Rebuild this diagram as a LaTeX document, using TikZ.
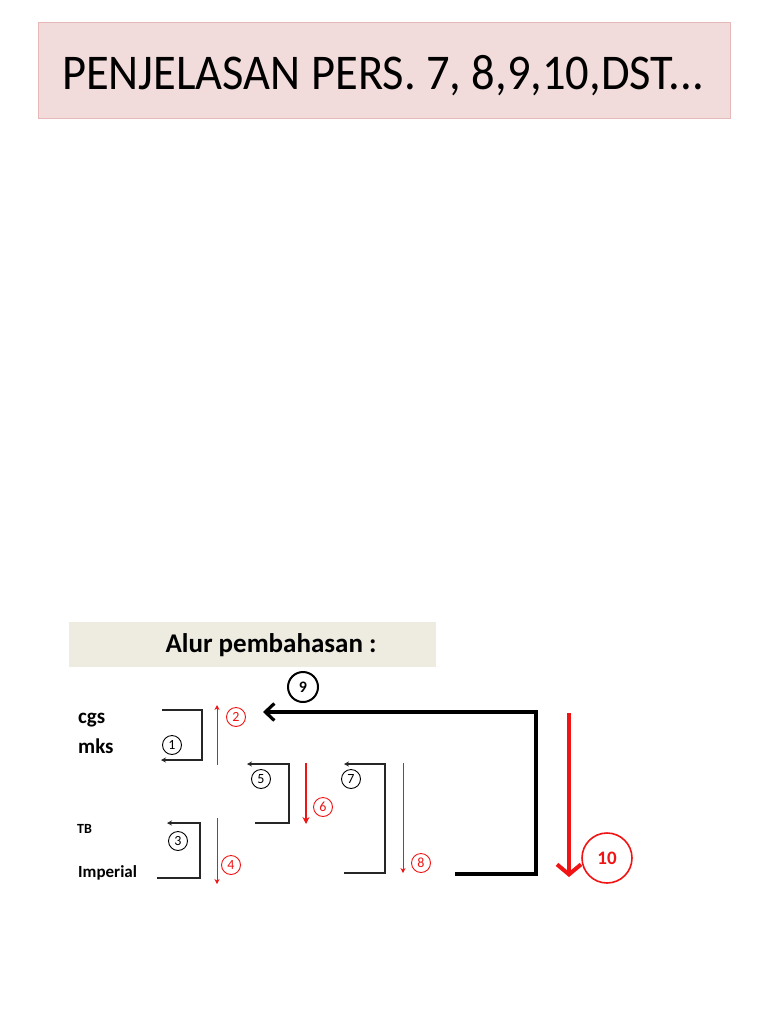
\documentclass[tikz,border=0pt]{standalone}
\usepackage{fontspec}
\setmainfont{Carlito}
\usetikzlibrary{arrows.meta}
\definecolor{titlefill}{RGB}{242,220,219}
\definecolor{titledraw}{RGB}{230,185,184}
\definecolor{alurfill}{RGB}{238,236,225}
\definecolor{myred}{RGB}{240,20,20}
\tikzset{
  bracketline/.style={draw=black!85, line width=1.1pt},
  redthin/.style={draw=myred, line width=1pt},
  numcirc/.style={circle, draw=black, line width=0.9pt, minimum size=19pt, inner sep=0pt, font=\fontsize{14}{14}\selectfont},
  rednumcirc/.style={numcirc, draw=myred, text=myred},
  unitlabel/.style={anchor=base west, font=\bfseries\fontsize{21}{21}\selectfont, inner sep=0pt},
  smallhead/.style={-{Stealth[length=5pt,width=5pt]}},
}
\begin{document}
\begin{tikzpicture}[x=1pt,y=-1pt]
\useasboundingbox (0,0) rectangle (768,1024);
\fill[white] (0,0) rectangle (768,1024);
% title
\draw[fill=titlefill, draw=titledraw, line width=0.8pt] (38,22) rectangle (730,118);
\node[anchor=base, inner sep=0pt, font=\fontsize{50}{50}\selectfont] (title) at (383,90) {\scalebox{0.93}[1]{PENJELASAN PERS. 7, 8,9,10,DST...}};
% alur box
\fill[alurfill] (69,622) rectangle (436,667);
\node[anchor=base, inner sep=0pt, font=\bfseries\fontsize{27}{27}\selectfont] (alur) at (271,652) {Alur pembahasan :};
% unit labels
\node[unitlabel] (cgs) at (78,723) {cgs};
\node[unitlabel] (mks) at (78,753) {mks};
\node[unitlabel, font=\bfseries\fontsize{14}{14}\selectfont] (tb) at (77,833) {TB};
\node[unitlabel, font=\bfseries\fontsize{17}{17}\selectfont] (imp) at (78,877) {Imperial};
% coordinates
\coordinate (b1a) at (162,710); \coordinate (b1b) at (202,710);
\coordinate (b1c) at (202,760); \coordinate (b1d) at (161,760);
\coordinate (b3a) at (157,878); \coordinate (b3b) at (200,878);
\coordinate (b3c) at (200,823); \coordinate (b3d) at (167,823);
\coordinate (b5a) at (255,823); \coordinate (b5b) at (289,823);
\coordinate (b5c) at (289,764); \coordinate (b5d) at (247,764);
\coordinate (b7a) at (344,873); \coordinate (b7b) at (385,873);
\coordinate (b7c) at (385,764); \coordinate (b7d) at (344,764);
\coordinate (r2a) at (217,765); \coordinate (r2b) at (217,705);
\coordinate (r4a) at (217,818); \coordinate (r4b) at (217,884);
\coordinate (r6a) at (306,763); \coordinate (r6b) at (306,824);
\coordinate (r8a) at (403,763); \coordinate (r8b) at (403,873);
\coordinate (t9a) at (455,874); \coordinate (t9b) at (536,874);
\coordinate (t9c) at (536,712); \coordinate (t9d) at (263,712);
\coordinate (r10a) at (569,713); \coordinate (r10b) at (569,877);
% brackets
\draw[bracketline, smallhead] (b1a) -- (b1b) -- (b1c) -- (b1d);
\draw[bracketline, smallhead] (b3a) -- (b3b) -- (b3c) -- (b3d);
\draw[bracketline, smallhead] (b5a) -- (b5b) -- (b5c) -- (b5d);
\draw[bracketline, smallhead] (b7a) -- (b7b) -- (b7c) -- (b7d);
% red arrows
\draw[redthin, smallhead] (r2a) -- (r2b);
\draw[redthin, smallhead] (r4a) -- (r4b);
\draw[draw=myred, line width=2pt, -{Stealth[length=7pt,width=7pt]}] (r6a) -- (r6b);
\draw[redthin, smallhead] (r8a) -- (r8b);
% big black path
\draw[line width=3.8pt, line join=miter, -{Straight Barb[length=9pt,width=17pt,line width=3.2pt]}] (t9a) -- (t9b) -- (t9c) -- (t9d);
% big red arrow
\draw[draw=myred, line width=4.5pt, -{Straight Barb[length=10pt,width=24pt,line width=4pt]}] (r10a) -- (r10b);
% number circles
\node[numcirc] (c1) at (172,745) {1};
\node[rednumcirc] (c2) at (236,717) {2};
\node[numcirc] (c3) at (178,841) {3};
\node[rednumcirc] (c4) at (231,865) {4};
\node[numcirc] (c5) at (261,779) {5};
\node[rednumcirc] (c6) at (323,807) {6};
\node[numcirc] (c7) at (351,779) {7};
\node[rednumcirc] (c8) at (421,863) {8};
\node[numcirc, minimum size=30pt, line width=2pt, font=\bfseries\fontsize{16}{16}\selectfont] (c9) at (303,687) {9};
\node[rednumcirc, minimum size=50pt, line width=1.6pt, font=\bfseries\fontsize{19}{19}\selectfont] (c10) at (607,858) {10};
\end{tikzpicture}
\end{document}
